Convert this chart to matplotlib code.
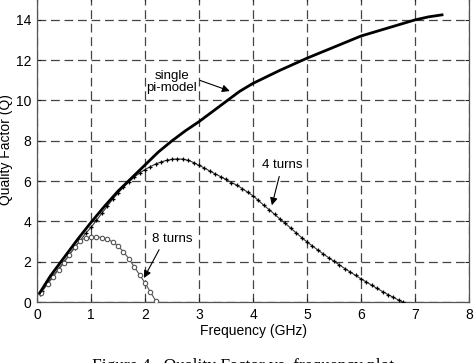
#!/usr/bin/env python3
# quality factor vs frequency, three inductor models

import matplotlib
matplotlib.use("Agg")
import matplotlib.pyplot as plt

# -------------------------------
# data (GHz, Q)
# -------------------------------
single_f = [0.05, 0.25, 0.5, 0.75, 1.0, 1.25, 1.5, 1.75, 2.0, 2.25, 2.5, 2.75,
            3.0, 3.25, 3.5, 3.75, 4.0, 4.5, 5.0, 5.5, 6.0, 6.5, 7.0, 7.25, 7.5]
single_q = [0.45, 1.3, 2.2, 3.1, 3.95, 4.75, 5.5, 6.15, 6.8, 7.45, 8.0, 8.5,
            8.95, 9.45, 9.95, 10.45, 10.85, 11.5, 12.1, 12.65, 13.2, 13.6, 14.0, 14.15, 14.25]

turns4_f = [0.05, 0.1, 0.2, 0.3, 0.4, 0.5, 0.6, 0.7, 0.8, 0.9, 1.0, 1.1, 1.2, 1.3,
            1.4, 1.5, 1.6, 1.7, 1.8, 1.9, 2.0, 2.1, 2.2, 2.3, 2.4, 2.5, 2.6, 2.7,
            2.8, 2.9, 3.0, 3.1, 3.2, 3.3, 3.4, 3.5, 3.6, 3.7, 3.8, 3.9, 4.0, 4.1,
            4.2, 4.3, 4.4, 4.5, 4.6, 4.7, 4.8, 4.9, 5.0, 5.1, 5.2, 5.3, 5.4, 5.5,
            5.6, 5.7, 5.8, 5.9, 6.0, 6.1, 6.2, 6.3, 6.4, 6.5, 6.6, 6.7, 6.77]
turns4_q = [0.4, 0.55, 0.95, 1.3, 1.65, 2.0, 2.35, 2.7, 3.05, 3.4, 3.7, 4.05, 4.4, 4.75,
            5.1, 5.4, 5.7, 5.95, 6.2, 6.4, 6.57, 6.72, 6.85, 6.95, 7.03, 7.08, 7.1, 7.09,
            7.03, 6.92, 6.78, 6.65, 6.5, 6.36, 6.22, 6.08, 5.93, 5.8, 5.63, 5.45, 5.27, 5.04,
            4.8, 4.58, 4.35, 4.12, 3.9, 3.66, 3.43, 3.2, 2.98, 2.78, 2.58, 2.39, 2.2, 2.02,
            1.84, 1.66, 1.49, 1.32, 1.15, 0.99, 0.83, 0.67, 0.52, 0.37, 0.23, 0.09, 0.0]

turns8_f = [0.07, 0.2, 0.3, 0.4, 0.5, 0.6, 0.7, 0.8, 0.9, 1.0, 1.1, 1.2, 1.3, 1.4,
            1.5, 1.6, 1.7, 1.8, 1.9, 2.0, 2.1, 2.2]
turns8_q = [0.45, 0.9, 1.25, 1.6, 1.95, 2.35, 2.75, 3.05, 3.18, 3.22, 3.24, 3.2, 3.12, 2.98,
            2.78, 2.5, 2.15, 1.75, 1.35, 0.95, 0.5, 0.05]

x_ticks = [0, 1, 2, 3, 4, 5, 6, 7, 8]
y_ticks = [0, 2, 4, 6, 8, 10, 12, 14]

# -------------------------------
# figure
# -------------------------------
plt.rcParams["font.family"] = ["Liberation Sans", "DejaVu Sans"]

W, H = 474, 363
fig = plt.figure(figsize=(W / 100, H / 100), dpi=100)
ax = fig.add_axes([37 / W, 1 - 302 / H, 432 / W, 305 / H])

ax.plot(single_f, single_q, color="black", lw=2.0, zorder=4)
ax.plot(turns4_f, turns4_q, color="#333333", lw=0.8, marker="+",
        ms=3.5, mew=0.9, mec="black", zorder=3)
ax.plot(turns8_f, turns8_q, color="#555555", lw=0.8, marker="o",
        ms=3.2, mfc="white", mec="#555555", mew=0.8, zorder=3)

ax.set_xlim(0, 8)
ax.set_ylim(0, 305 / 20.15)
ax.set_xticks(x_ticks)
ax.set_yticks(y_ticks)
ax.tick_params(direction="in", top=True, right=True, length=3,
               labelsize=10, colors="#222222", labelcolor="black", pad=4)
for s in ax.spines.values():
    s.set_color("#555555")
    s.set_linewidth(0.9)

ax.grid(True, color="#444444", lw=0.9, linestyle=(0, (7, 3.8)))
ax.set_axisbelow(True)

ax.set_xlabel("Frequency (GHz)", fontsize=10, labelpad=2)
ax.set_ylabel("Quality Factor (Q)", fontsize=10, labelpad=2)

# annotations
arrow = dict(arrowstyle="-|>", color="black", lw=0.8, mutation_scale=11)
ax.annotate("single\npi-model", xy=(3.57, 10.47), xytext=(2.5, 10.92),
            ha="center", va="center", fontsize=9.5, linespacing=1.1,
            arrowprops=dict(arrow, shrinkA=0, shrinkB=0, relpos=(1.0, 0.6)))
ax.annotate("4 turns", xy=(4.35, 4.8), xytext=(4.54, 6.8),
            ha="center", va="center", fontsize=9.5,
            arrowprops=dict(arrow, shrinkA=2, shrinkB=0))
ax.annotate("8 turns", xy=(1.98, 1.19), xytext=(2.5, 3.15),
            ha="center", va="center", fontsize=9.5,
            arrowprops=dict(arrow, shrinkA=2, shrinkB=0, relpos=(0.25, 0.0)))

# caption, only its upper part falls inside the picture
fig.text(243.5 / W, 1 - 357.5 / H, "Figure 4.  Quality Factor vs. frequency plot",
         ha="center", va="top", fontsize=12.5,
         family=["Liberation Serif", "DejaVu Serif"])

fig.savefig("out.png", dpi=100)
